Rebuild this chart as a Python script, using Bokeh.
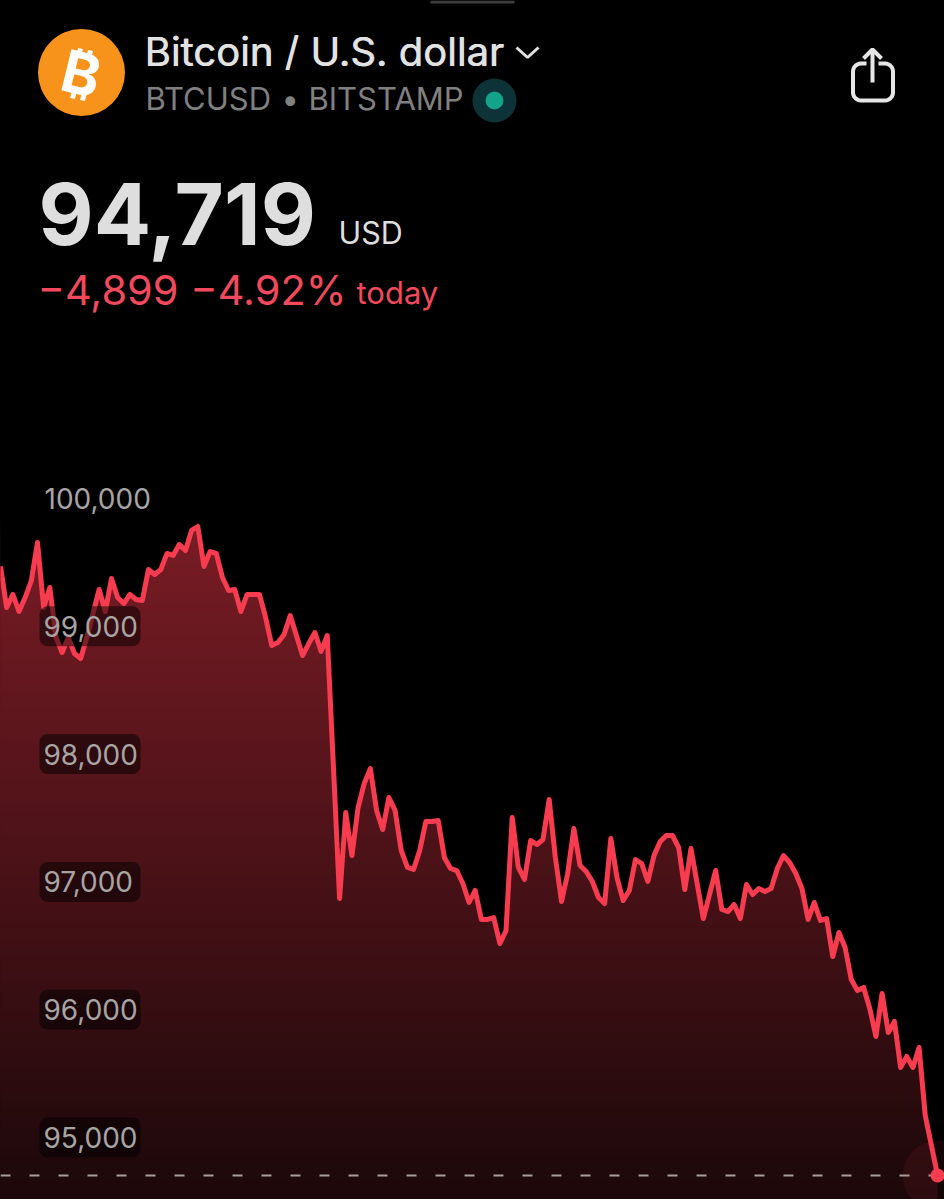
from bokeh.embed import file_html
from bokeh.resources import INLINE
from bokeh.models import Range1d, BoxAnnotation
from bokeh.plotting import figure
from bokeh.core.properties import value
import numpy as np

# ---------- data ----------
prices = [
    99468, 99147, 99249, 99116, 99225, 99358, 99656, 99147, 99304, 98912,
    98795, 98912, 98787, 98748, 98912, 99100, 99288, 99116, 99374, 99225,
    99178, 99249, 99210, 99202, 99444, 99405, 99444, 99570, 99554, 99640,
    99593, 99750, 99781, 99468, 99585, 99570, 99382, 99280, 99288, 99116,
    99249, 99249, 99249, 99069, 98850, 98873, 98936, 99084, 98928, 98771,
    98865, 98951, 98803, 98928, 97903,
    96870, 97543, 97206, 97582, 97770, 97887, 97559, 97410, 97660, 97559,
    97246, 97113, 97097, 97246, 97473, 97473, 97480, 97191, 97105, 97089,
    96987, 96839, 96933, 96706, 96706, 96721, 96518, 96620, 97504, 97113,
    97019, 97324, 97293, 97332, 97645, 97191, 96847, 97066, 97418, 97128,
    97081, 97003, 96878, 96831, 97339, 97034, 96854, 96933, 97175,
    97144, 97003, 97206, 97316, 97363, 97363, 97269, 96940, 97261, 96987,
    96713, 96901, 97089, 96784, 96768, 96823, 96713, 96980, 96901, 96948,
    96925, 96948, 97105, 97206, 97152, 97066, 96948, 96706, 96839, 96698,
    96713, 96416, 96604, 96487, 96236, 96150, 96174, 96009, 95790, 96127,
    95821, 95908, 95548, 95634, 95548, 95704, 95172, 94937, 94702,
]
index = list(range(len(prices)))
tick_values = [100000, 99000, 98000, 97000, 96000, 95000]
tick_labels = ["100,000", "99,000", "98,000", "97,000", "96,000", "95,000"]
title = "Bitcoin / U.S. dollar"
symbol = "BTCUSD"
exchange = "BITSTAMP"
last_price = "94,719"
currency = "USD"
change = "\u22124,899 \u22124.92%"
change_word = "today"

# ---------- styles ----------
BG = "#000000"
RED = "#f83c50"
FONT = value("Inter")
PX_PER_INDEX = 6.165
USD_PER_PX = 7.825
W, H = 944, 1199
LEFT, TOP = 0, 0


def usd_at(py):
    return 100000 - (py - 498) * USD_PER_PX


x_end = (LEFT + W) / PX_PER_INDEX
p = figure(
    width=W, height=H, output_backend="svg", toolbar_location=None,
    x_range=Range1d(LEFT / PX_PER_INDEX, x_end),
    y_range=Range1d(usd_at(TOP + H), usd_at(TOP)),
    min_border=0, background_fill_color=BG, border_fill_color=BG,
    outline_line_color=None,
    styles={"background-color": BG, "box-shadow": f"0 0 0 8px {BG}"},
)
p.axis.visible = False
p.grid.visible = False
p.extra_x_ranges["px"] = Range1d(LEFT, LEFT + W)
p.extra_y_ranges["px"] = Range1d(TOP + H, TOP)
PX = dict(x_range_name="px", y_range_name="px")
TXT = dict(text_baseline="alphabetic", x_range_name="px", y_range_name="px")

# ---------- gradient under the line, masked above it ----------
edges = np.linspace(515, 1199, 115)
c0, c1 = np.array([122, 28, 37]), np.array([28, 8, 10])
colors = []
for t in np.linspace(0, 1, len(edges) - 1):
    r, g, b = (c0 + (c1 - c0) * t).round().astype(int)
    colors.append(f"#{r:02x}{g:02x}{b:02x}")
p.quad(left=[LEFT] * len(colors), right=[LEFT + W] * len(colors),
       top=edges[:-1], bottom=[TOP + H] * len(colors), fill_color=colors, line_color=None, **PX)
mask_x = [-2] + index + [x_end]
mask_y = [prices[0]] + prices + [usd_at(TOP + H)]
for _ in range(3):  # repeated so no anti-aliased sliver survives at the left edge
    p.varea(x=mask_x, y1=mask_y, y2=[usd_at(TOP)] * len(mask_x), fill_color=BG)
p.varea(x=[index[-1], x_end], y1=[usd_at(TOP + H)] * 2, y2=[usd_at(TOP)] * 2, fill_color=BG)

# last-price guide, halo, line and end dot
p.line([LEFT, LEFT + W], [prices[-1]] * 2, x_range_name="px", line_color="#a89e9e",
       line_width=2, line_dash="10 19")
p.scatter([index[-1]], [prices[-1]], size=70, marker="circle", fill_color=RED, fill_alpha=0.08, line_color=None)
p.line(index, prices, line_color=RED, line_width=5, line_join="round")
p.scatter([index[-1]], [prices[-1]], size=14, marker="circle", fill_color=RED, line_color=None)

# ---------- value labels ----------
for v in tick_values[1:]:
    py = 498 + (100000 - v) / USD_PER_PX
    p.add_layout(BoxAnnotation(left=39, right=140, top=py - 20, bottom=py + 20, border_radius=8,
                               fill_color="#000000", fill_alpha=0.5, line_color=None,
                               level="annotation", **PX))
p.text([44 if v == 100000 else 43 for v in tick_values], tick_values, text=tick_labels,
       text_font=FONT, text_font_size="28px", text_color="#a8a4a4",
       text_baseline="middle", x_range_name="px", level="overlay")

# ---------- header ----------
# grabber
p.quad(left=[430], right=[514], top=[0], bottom=[3], fill_color="#3d3d3d", line_color=None, **PX)
# coin
p.scatter([81], [72], size=87, marker="circle", fill_color="#f7931a", line_color=None, **PX)
p.text([81], [73], text=["B"], text_font=FONT, text_font_style="bold", text_font_size="58px",
       text_color="#ffffff", text_align="center", text_baseline="middle", angle=-0.24, **PX)
p.multi_line([[80, 78], [90, 88], [74, 72], [84, 82]], [[48, 56], [50, 58], [90, 98], [92, 100]],
             line_color="#ffffff", line_width=5, **PX)
# texts
p.text([144, 144.6], [51, 51], text=[title, title], text_font=FONT, text_font_size="40px", text_color="#e2e2e2", **TXT)
p.line([516, 527, 538], [47, 57, 47], line_color="#e2e2e2", line_width=3, **PX)
p.text([145, 281, 308], [98, 98, 98], text=[symbol, "\u2022", exchange], text_font=FONT,
       text_font_size="31px", text_color="#808080", **TXT)
p.scatter([494], [100], size=44, marker="circle", fill_color="#0d3339", line_color=None, **PX)
p.scatter([494], [100], size=18, marker="circle", fill_color="#13a388", line_color=None, **PX)
p.text([38], [213], text=[last_price], text_font=FONT, text_font_style="bold", text_font_size="85px",
       text_color="#dedede", **TXT)
p.text([338], [232], text=[currency], text_font=FONT, text_font_size="30.5px", text_color="#dedede", **TXT)
p.text([37], [289], text=[change], text_font=FONT, text_font_size="41.5px", text_color="#f2495c", **TXT)
p.text([356], [292], text=[change_word], text_font=FONT, text_font_size="31px", text_color="#f2495c", **TXT)

# share icon
R = 8
ang = np.linspace(0, np.pi / 2, 7)
bx0, bx1, by0, by1 = 852.5, 892.5, 63, 100
xs = [878, bx1 - R] + list(bx1 - R + R * np.sin(ang)) + list(bx1 - R + R * np.cos(ang)) + \
     list(bx0 + R - R * np.sin(ang)) + list(bx0 + R - R * np.cos(ang)) + [866]
ys = [by0, by0] + list(by0 + R - R * np.cos(ang)) + list(by1 - R + R * np.sin(ang)) + \
     list(by1 - R + R * np.cos(ang)) + list(by0 + R - R * np.sin(ang)) + [by0]
p.line(xs, ys, line_color="#e6e6e6", line_width=4, line_join="round", **PX)
p.multi_line([[872, 872], [863, 872, 881]], [[50, 82], [58, 49, 58]], line_color="#e6e6e6", line_width=4, **PX)

open("out.html", "w").write(file_html(p, INLINE))
